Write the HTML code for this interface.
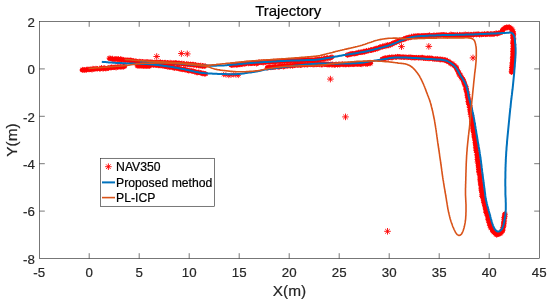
<!DOCTYPE html>
<html><head><meta charset="utf-8"><title>Trajectory</title>
<style>html,body{margin:0;padding:0;background:#fff;overflow:hidden}body{width:550px;height:303px;position:relative}</style></head>
<body>
<svg width="550" height="303" viewBox="0 0 550 303" style="position:absolute;left:0;top:0">
<defs><marker id="st" markerWidth="8" markerHeight="8" refX="4" refY="4" markerUnits="userSpaceOnUse" overflow="visible"><path d="M0.7,4H7.3M4,0.7V7.3M1.7,1.7L6.3,6.3M1.7,6.3L6.3,1.7" stroke="#ff0000" stroke-width="0.9" fill="none"/></marker><marker id="sb" markerWidth="8" markerHeight="8" refX="4" refY="4" markerUnits="userSpaceOnUse" overflow="visible"><path d="M1.4,4H6.6M4,1.4V6.6M2.2,2.2L5.8,5.8M2.2,5.8L5.8,2.2" stroke="#ff0000" stroke-width="0.8" fill="none"/></marker></defs>
<polyline points="81.7,70.2 83.2,70.1 84.7,69.9 86.1,69.8 87.6,69.7 89.0,69.6 90.4,69.4 91.9,69.3 93.4,69.2 95.0,69.0 96.6,68.9 98.2,68.8 100.0,68.6 101.4,68.5 102.8,68.4 104.3,68.2 105.8,68.1 107.3,68.0 108.9,67.8 110.5,67.7 112.1,67.5 113.7,67.4 115.3,67.3 117.0,67.1 118.6,67.0 120.2,66.8 121.8,66.7 123.4,66.5 125.0,66.4" fill="none" stroke="#ff0000" stroke-width="3.8" stroke-linecap="round" stroke-linejoin="round"/>
<polyline points="82.3,70.3 82.4,69.5 83.0,70.0 83.7,69.8 84.4,69.8 84.7,70.2 86.1,70.4 86.5,69.7 86.9,69.2 88.1,69.3 88.0,69.5 89.6,69.6 89.4,69.3 90.6,69.4 90.9,69.3 92.0,70.0 92.1,69.1 92.9,68.4 93.6,68.8 95.0,69.0 94.8,69.2 95.9,68.4 96.6,68.7 97.3,68.8 97.6,68.7 99.5,69.0 100.4,69.0 101.1,68.2 101.5,67.9 101.7,67.8 102.9,68.8 103.2,68.9 103.7,68.3 104.6,67.8 105.4,68.8 105.6,68.4 106.6,68.6 107.5,68.2 108.3,68.0 108.3,68.3 109.1,67.8 110.4,67.4 111.0,68.0 111.7,67.3 111.5,67.2 113.0,67.3 113.6,67.5 114.5,67.3 115.6,67.0 116.1,67.9 117.2,66.7 117.6,67.2 118.8,67.0 119.0,66.7 120.1,67.0 120.5,66.7 121.2,67.0 121.9,66.8 123.1,66.8 123.3,67.0 124.1,66.6 124.8,65.8" fill="none" stroke="none" marker-start="url(#sb)" marker-mid="url(#sb)" marker-end="url(#sb)"/>
<polyline points="137.0,65.8 138.6,65.8 140.2,65.9 141.9,66.0 143.5,66.0 145.1,66.0 146.8,66.1 148.4,66.2 150.0,66.2" fill="none" stroke="#ff0000" stroke-width="3.3" stroke-linecap="round" stroke-linejoin="round"/>
<polyline points="137.0,65.8 137.7,65.9 138.3,65.7 139.1,66.2 140.0,65.8 140.7,65.8 141.3,66.1 142.0,65.7 142.6,66.0 143.5,66.2 144.1,66.1 145.0,66.0 145.8,66.1 146.2,66.3 146.9,66.1 147.8,66.2 148.4,66.1 149.3,66.3 149.9,66.2" fill="none" stroke="none" marker-start="url(#sb)" marker-mid="url(#sb)" marker-end="url(#sb)"/>
<polyline points="152.0,64.8 153.6,65.0 155.2,65.1 156.8,65.3 158.4,65.4 160.0,65.6 161.6,65.8 163.3,66.0 165.0,66.2 166.4,66.4 168.0,66.6 169.5,66.9 171.1,67.1 172.7,67.4 174.3,67.7 175.8,68.0 177.3,68.2 178.7,68.5 180.0,68.7 182.0,69.1 183.7,69.4 185.3,69.7 186.9,70.0 188.4,70.4 190.0,70.7 191.7,71.1 193.5,71.5 195.2,71.9 197.0,72.3 198.6,72.6 200.0,72.9 201.8,73.2 203.2,73.4 204.6,73.6 206.0,73.8" fill="none" stroke="#ff0000" stroke-width="3.5" stroke-linecap="round" stroke-linejoin="round"/>
<polyline points="151.9,64.5 153.3,64.9 153.1,65.3 153.9,65.1 155.0,64.9 155.5,65.0 156.2,64.9 156.7,65.3 157.9,65.5 158.8,65.6 159.0,65.5 159.3,65.4 160.3,65.7 161.4,65.6 161.8,65.5 162.7,66.0 163.6,65.8 164.7,66.4 165.0,66.1 165.6,66.3 166.4,66.5 167.3,66.8 168.1,66.6 168.6,66.6 169.2,67.3 169.9,67.4 170.7,67.2 171.8,67.2 172.4,67.3 173.0,67.4 173.7,68.0 174.5,68.1 174.7,67.9 176.2,67.9 177.0,68.3 177.4,68.3 178.8,68.4 178.8,68.4 179.4,68.3 180.0,69.3 181.1,69.0 181.9,69.4 182.6,69.6 183.5,69.3 184.3,68.9 184.5,69.6 185.1,69.7 185.8,69.7 187.3,70.1 187.3,70.4 187.9,70.5 188.7,70.8 189.0,70.7 190.0,70.4 191.0,70.7 191.8,71.1 192.4,71.2 193.2,70.9 193.8,71.4 194.6,71.7 195.4,71.7 196.4,72.6 196.7,72.2 197.5,72.7 198.6,72.2 198.6,72.4 199.2,72.4 200.1,72.6 201.3,73.3 201.5,73.0 202.4,73.7 203.1,73.1 203.9,73.6 204.4,74.0 205.3,73.8 205.8,73.8" fill="none" stroke="none" marker-start="url(#sb)" marker-mid="url(#sb)" marker-end="url(#sb)"/>
<polyline points="109.2,58.8 110.8,58.9 112.4,59.0 114.0,59.1 115.6,59.3 117.1,59.4 118.7,59.5 120.3,59.6 121.9,59.7 123.5,59.9 125.0,60.0 126.5,60.2 128.0,60.3 129.4,60.5 130.8,60.7 132.2,60.9 133.7,61.1 135.2,61.2 136.7,61.4 138.3,61.6 140.0,61.7 141.4,61.8 142.8,61.9 144.3,61.9 145.8,62.0 147.3,62.1 148.9,62.1 150.5,62.2 152.1,62.2 153.7,62.3 155.3,62.3 156.9,62.4 158.4,62.4 160.0,62.5 161.6,62.6 163.1,62.6 164.7,62.7 166.3,62.8 167.9,62.8 169.5,62.9 171.1,63.0 172.7,63.1 174.2,63.1 175.7,63.2 177.2,63.3 178.6,63.4 180.0,63.5 181.7,63.6 183.4,63.8 185.0,63.9 186.6,64.1 188.1,64.2 189.6,64.4 191.0,64.5 192.4,64.7 193.7,64.9 195.0,65.0 197.0,65.2 198.7,65.4 200.3,65.7 201.9,65.9 203.4,66.1 205.0,66.3" fill="none" stroke="#ff0000" stroke-width="3.8" stroke-linecap="round" stroke-linejoin="round"/>
<polyline points="109.1,58.1 110.0,58.3 110.6,58.4 112.0,59.1 112.4,59.3 112.4,58.3 113.4,59.4 114.3,59.4 115.3,58.7 115.8,59.9 116.2,58.6 117.1,59.2 118.0,59.1 118.6,58.7 119.6,60.1 120.5,59.1 120.9,58.7 121.6,59.7 121.8,59.9 122.9,60.1 123.6,59.9 123.7,59.6 124.8,60.1 125.7,60.6 126.2,60.1 127.2,60.1 128.0,60.1 129.0,60.3 129.6,60.5 130.4,60.1 130.7,60.5 131.3,61.1 131.5,60.4 132.2,61.0 132.6,61.0 133.5,60.7 134.5,61.3 135.2,61.1 136.1,61.3 136.0,61.3 137.6,61.9 139.1,61.8 139.2,61.3 140.0,62.0 141.0,61.5 141.4,62.1 142.5,61.9 142.4,61.6 143.2,61.7 144.2,62.3 144.9,62.4 145.2,62.1 145.9,62.0 147.2,62.0 146.9,62.0 148.0,61.6 148.7,62.4 150.2,62.0 150.8,62.6 150.8,62.2 151.9,62.3 152.1,62.1 153.7,62.7 154.7,62.2 155.5,62.5 155.2,62.6 156.2,62.5 157.1,62.8 157.9,62.3 158.9,62.5 159.1,62.9 159.9,62.3 160.5,62.0 161.3,63.2 161.9,62.6 162.5,62.4 164.1,63.0 164.2,62.7 164.8,62.5 165.6,62.5 166.7,63.0 167.5,62.8 167.6,62.8 168.5,63.2 169.8,63.2 170.2,62.4 171.4,63.4 171.3,63.1 172.9,62.7 173.8,63.0 173.6,63.6 174.7,63.0 175.6,62.6 176.6,63.0 176.8,63.2 177.5,63.6 177.8,63.6 178.6,63.2 179.3,63.1 179.7,63.8 180.8,63.9 181.8,63.3 181.8,63.5 183.3,63.8 183.8,64.2 184.2,63.5 185.6,64.7 186.4,63.7 187.2,64.3 188.1,64.1 188.2,64.3 189.3,64.9 190.6,64.2 190.4,64.5 191.1,64.7 192.0,64.7 193.0,64.7 192.8,64.3 193.4,64.5 193.8,65.2 195.1,64.9 195.6,64.6 196.4,65.8 196.7,65.3 198.5,65.4 198.8,65.7 199.3,65.8 200.8,65.3 200.7,65.8 202.0,66.3 202.5,65.7 202.6,66.1 203.7,65.8 204.3,66.3 205.3,66.0" fill="none" stroke="none" marker-start="url(#sb)" marker-mid="url(#sb)" marker-end="url(#sb)"/>
<polyline points="223.6,74.6 225.9,74.9 228.8,75.6 231.1,75.1 233.6,74.8 235.8,74.9 238.3,75.5" fill="none" stroke="none" marker-start="url(#sb)" marker-mid="url(#sb)" marker-end="url(#sb)"/>
<polyline points="230.5,65.2 232.0,65.0 233.5,64.9 234.9,64.8 236.3,64.6 237.7,64.5 239.1,64.3 240.5,64.2 242.0,64.0 243.5,63.9 245.0,63.7 246.6,63.6 248.3,63.4 250.1,63.3 252.0,63.1 253.3,63.0 254.6,62.9 256.0,62.8 257.4,62.7 258.9,62.6 260.4,62.5 261.9,62.4 263.5,62.3 265.1,62.2 266.7,62.1 268.3,62.0 269.9,61.9 271.5,61.8 273.1,61.7 274.7,61.6 276.3,61.5 277.8,61.4 279.3,61.3 280.8,61.2 282.3,61.1 283.7,61.1 285.0,61.0 286.8,60.9 288.6,60.8 290.4,60.7 292.2,60.7 293.9,60.6 295.6,60.5 297.3,60.5 298.9,60.4 300.5,60.4 302.1,60.3 303.6,60.3 305.0,60.2 306.4,60.2 307.6,60.1 308.9,60.1 310.0,60.0 312.5,59.9 314.4,59.8 315.8,59.7 317.1,59.6 318.4,59.5 320.0,59.3 321.4,59.1 322.9,58.9 324.4,58.6 325.9,58.4 327.4,58.1 329.0,57.8 330.5,57.6 332.0,57.3" fill="none" stroke="#ff0000" stroke-width="3.8" stroke-linecap="round" stroke-linejoin="round"/>
<polyline points="230.7,64.9 231.8,65.2 231.9,65.3 232.0,65.1 233.6,65.0 234.0,64.5 234.8,64.8 235.3,64.5 236.2,65.1 236.7,64.9 237.7,65.0 238.0,64.4 238.4,64.4 239.4,64.6 239.7,64.3 240.2,64.6 241.1,64.2 241.6,63.9 242.3,64.5 243.4,63.8 243.7,63.6 244.9,64.3 245.0,63.4 246.1,63.4 246.4,63.5 248.0,62.9 248.6,63.7 249.7,63.2 251.0,63.4 250.8,63.5 251.6,63.4 252.2,63.3 253.0,63.4 254.0,63.1 254.4,63.3 254.5,63.0 255.8,63.0 256.6,64.0 257.1,63.0 257.8,63.2 257.7,63.2 258.9,61.8 259.4,62.5 260.6,62.5 261.5,62.4 261.9,61.7 262.8,62.7 263.3,61.7 263.7,62.8 264.7,62.0 265.4,62.4 266.2,61.8 266.7,62.0 268.2,62.0 268.9,62.0 269.5,62.0 270.2,62.2 271.1,61.6 271.7,61.7 272.6,61.8 273.3,61.2 274.0,62.1 274.2,62.1 275.5,61.5 275.5,61.9 276.5,61.3 277.8,61.1 278.0,61.0 279.0,61.5 279.8,61.4 280.3,61.3 280.9,61.9 281.8,60.5 282.1,61.7 282.6,61.0 283.9,60.7 284.7,61.6 284.7,61.4 285.5,60.6 286.7,61.0 287.3,61.2 287.8,60.6 288.8,61.0 290.2,61.0 290.3,60.8 291.7,60.2 292.1,60.9 293.4,60.7 294.1,60.7 294.8,60.5 295.2,60.5 296.2,61.3 297.1,60.5 297.7,60.4 298.5,60.6 299.3,60.7 299.8,60.5 301.0,60.0 301.5,60.4 302.1,60.1 302.2,60.7 303.2,59.8 304.4,59.6 305.2,60.4 305.7,60.1 305.7,59.5 307.2,60.0 307.1,60.6 307.7,60.0 308.3,60.0 308.6,59.9 309.9,60.3 309.0,59.4 311.3,59.9 312.1,60.2 312.5,60.2 313.9,60.0 314.7,60.1 315.1,59.6 316.1,59.8 315.9,60.1 317.3,60.1 317.5,59.7 317.9,59.2 318.6,59.5 319.0,60.0 319.5,59.0 320.4,59.6 321.2,59.0 321.7,58.8 322.3,59.3 323.6,59.1 323.9,59.5 324.5,57.9 325.4,58.5 326.5,58.0 327.2,58.8 327.4,57.8 327.8,58.0 329.4,58.1 330.1,58.1 330.6,57.9 331.0,57.2 332.1,57.0" fill="none" stroke="none" marker-start="url(#sb)" marker-mid="url(#sb)" marker-end="url(#sb)"/>
<polyline points="267.0,67.5 268.5,67.4 270.0,67.2 271.6,67.1 273.1,67.0 274.7,66.8 276.2,66.7 277.7,66.6 279.2,66.5 280.7,66.3 282.2,66.2 283.6,66.1 285.0,66.0 286.6,65.9 288.1,65.8 289.6,65.7 291.0,65.6 292.4,65.5 293.8,65.4 295.2,65.3 296.7,65.2 298.3,65.1 300.0,65.0 301.4,64.9 302.9,64.9 304.4,64.8 305.9,64.7 307.6,64.6 309.2,64.6 310.8,64.5 312.4,64.4 314.1,64.4 315.6,64.3 317.1,64.3 318.6,64.2 320.0,64.2 321.7,64.2 323.1,64.2 324.5,64.2 325.8,64.3 327.1,64.3 328.4,64.4 329.8,64.4 331.4,64.5 333.1,64.5 335.0,64.5 336.3,64.5 337.7,64.5 339.1,64.5 340.7,64.4 342.3,64.4 344.0,64.4 345.7,64.4 347.4,64.3 349.2,64.3 350.9,64.3 352.6,64.2 354.2,64.2 355.8,64.2 357.2,64.1 358.6,64.1 359.9,64.0 361.0,64.0 363.6,63.9 365.5,63.7 367.0,63.5 368.3,63.4 369.5,63.2 371.0,63.0" fill="none" stroke="#ff0000" stroke-width="3.8" stroke-linecap="round" stroke-linejoin="round"/>
<polyline points="267.2,68.0 267.9,67.2 268.2,67.8 268.9,67.3 269.8,67.3 271.0,67.0 270.9,67.6 272.2,67.3 272.9,67.3 274.0,67.4 274.3,66.8 275.2,66.9 276.0,66.5 275.8,66.8 277.5,66.8 278.6,66.8 278.6,66.8 279.4,66.9 280.3,66.5 281.0,66.3 281.1,66.3 281.5,66.4 283.3,66.8 283.8,65.9 283.8,66.7 284.5,66.3 285.0,65.9 286.8,66.0 287.2,65.6 287.7,66.1 288.8,65.7 289.4,65.4 290.4,66.0 290.5,65.6 291.7,65.3 292.7,66.0 292.6,65.8 293.9,65.0 294.3,65.3 294.7,65.5 295.3,64.8 295.7,65.2 297.1,65.2 297.6,65.1 298.8,65.3 298.9,64.9 300.4,64.8 300.5,65.0 300.9,65.2 301.2,65.4 302.5,64.5 303.4,64.3 304.2,65.1 304.6,64.6 305.8,64.5 306.2,64.8 307.5,64.5 307.7,65.0 307.6,64.5 308.6,63.9 310.6,64.6 311.2,64.4 311.7,64.3 312.1,64.4 313.1,64.9 313.7,64.5 314.4,64.4 314.8,64.7 315.8,64.3 316.6,64.6 317.5,64.3 318.1,64.4 319.0,64.4 319.8,64.7 320.2,63.8 321.4,64.9 321.5,64.1 321.6,64.4 322.7,64.8 322.9,64.2 324.6,64.1 324.7,64.3 325.4,64.2 326.2,64.1 326.7,64.6 327.3,64.4 327.8,64.7 328.3,64.7 328.4,64.1 329.5,64.8 330.9,64.0 331.3,64.9 332.3,64.7 332.7,64.0 334.2,65.3 334.8,64.7 335.2,64.9 336.0,64.3 336.1,64.3 337.5,64.9 337.7,64.8 338.6,64.4 339.1,63.9 339.8,65.0 340.5,64.3 342.0,63.7 342.5,64.2 343.2,64.7 343.9,64.3 345.0,64.6 345.3,64.3 345.9,64.8 346.7,64.4 348.5,64.6 348.6,64.1 349.3,64.6 350.4,64.3 351.9,64.0 351.7,64.1 352.7,64.3 353.3,64.5 354.3,64.1 354.0,64.4 355.2,63.9 356.2,63.7 356.6,64.1 357.4,64.2 357.9,64.0 358.4,64.0 359.5,63.9 359.5,63.9 360.5,64.4 361.0,63.8 361.8,64.6 362.9,63.5 364.1,63.2 365.4,63.8 365.9,63.3 366.2,63.9 367.3,64.4 367.9,62.8 368.1,63.2 368.9,63.2 369.3,63.1 369.9,63.6 370.1,62.4 370.6,63.5" fill="none" stroke="none" marker-start="url(#sb)" marker-mid="url(#sb)" marker-end="url(#sb)"/>
<polyline points="347.0,55.0 348.6,54.7 350.2,54.4 351.9,54.1 353.5,53.8 355.1,53.5 356.7,53.1 358.2,52.9 359.7,52.6 361.0,52.3 362.7,52.0 364.0,51.7 365.2,51.5 366.4,51.2 368.0,50.8 370.0,50.3 371.2,50.0 372.4,49.7 373.8,49.3 375.3,48.9 376.9,48.5 378.5,48.1 380.1,47.6 381.7,47.2 383.3,46.7 384.8,46.3 386.3,45.8 387.7,45.4 389.0,45.0 390.7,44.4 392.3,43.8 393.7,43.2 395.1,42.6 396.5,42.0 397.8,41.4 399.1,40.8 400.4,40.3 401.8,39.8 403.3,39.3 404.7,38.8 406.0,38.3 407.4,37.9 408.8,37.5 410.4,37.1 412.3,36.8 414.5,36.5 415.7,36.4 416.9,36.2 418.2,36.1 419.5,36.0 420.9,35.9 422.4,35.8 423.9,35.7 425.4,35.7 427.0,35.6 428.5,35.5 430.2,35.4 431.8,35.4 433.4,35.3 435.1,35.3 436.7,35.2 438.4,35.2 440.0,35.1 441.4,35.1 442.8,35.0 444.3,35.0 445.7,35.0 447.2,35.0 448.7,34.9 450.2,34.9 451.8,34.9 453.3,34.9 454.8,34.9 456.4,34.9 457.9,34.9 459.5,34.9 461.0,34.9 462.5,34.8 464.1,34.8 465.6,34.8 467.1,34.8 468.5,34.7 470.0,34.7 471.6,34.7 473.3,34.6 475.0,34.6 476.8,34.5 478.6,34.5 480.3,34.4 482.1,34.3 483.8,34.3 485.6,34.2 487.2,34.1 488.9,34.1 490.4,34.0 491.9,33.9 493.4,33.8 494.7,33.7 495.9,33.6 497.0,33.4 498.0,33.3 500.9,32.5 502.0,31.5 502.3,30.4 503.0,29.5 504.6,28.4 506.1,27.5 507.5,27.0 509.4,27.3 511.0,28.5 511.8,29.6 512.5,31.0 513.0,33.0 513.2,34.3 513.2,35.8 513.3,37.5 513.3,39.2 513.3,41.1 513.3,43.0 513.3,44.5 513.3,46.1 513.3,47.8 513.2,49.6 513.2,51.3 513.1,53.0 513.1,54.5 513.0,56.0 512.9,57.7 512.8,59.3 512.6,60.8 512.5,62.3 512.3,63.6 512.2,65.0 512.0,66.6 511.9,68.1 511.7,69.6 511.6,71.1 511.4,72.6" fill="none" stroke="#ff0000" stroke-width="3.8" stroke-linecap="round" stroke-linejoin="round"/>
<polyline points="347.1,54.9 347.4,55.2 348.5,54.7 349.0,54.5 349.8,54.6 351.0,53.6 350.9,54.1 352.1,53.5 352.6,53.7 353.4,53.6 354.3,53.9 355.3,53.6 355.8,53.1 356.3,53.4 357.2,53.3 357.9,52.9 358.6,52.3 359.1,52.5 360.1,52.3 360.5,52.3 361.1,52.5 361.7,52.1 362.6,52.2 363.1,51.8 363.6,51.4 364.4,51.7 364.6,52.0 365.2,51.6 366.1,50.7 366.6,50.6 367.3,51.2 368.7,51.0 368.5,50.4 370.5,50.3 371.1,49.9 370.9,49.6 371.5,50.3 371.9,50.0 373.0,49.8 373.4,49.4 374.9,48.8 375.1,49.5 375.7,49.4 375.3,48.5 376.6,48.3 377.7,48.4 378.2,48.3 378.7,48.1 379.9,47.0 380.1,46.8 381.2,47.2 382.7,47.2 382.5,46.0 383.6,46.1 384.4,46.1 386.0,45.6 385.9,46.6 386.3,45.5 387.7,44.8 387.2,44.9 388.5,45.4 388.9,45.7 389.7,44.7 390.5,44.8 391.3,44.0 392.6,44.3 393.1,43.1 393.1,43.2 394.1,42.8 394.7,42.9 395.1,42.5 396.0,41.9 396.6,42.1 397.4,41.3 398.1,41.3 398.7,40.9 399.5,40.9 399.5,40.1 400.0,40.4 400.9,39.9 401.8,40.2 403.2,39.5 403.8,39.5 404.2,39.0 404.0,39.1 405.4,38.2 405.5,38.6 406.4,37.9 406.6,38.4 408.0,37.9 408.3,37.8 408.8,37.4 409.2,37.2 410.1,37.6 410.9,37.3 411.4,37.2 411.5,36.3 413.4,36.0 414.7,36.6 414.7,36.5 415.1,36.1 416.0,35.8 417.1,36.0 417.7,36.1 418.1,35.8 418.5,36.0 419.3,36.5 419.7,35.9 420.6,36.2 421.2,35.8 421.7,35.9 422.7,35.6 423.2,36.0 424.0,35.5 424.9,35.9 425.6,35.9 426.0,35.7 427.0,35.6 427.1,35.5 428.5,35.7 429.1,35.5 429.3,35.0 429.7,35.3 432.0,36.0 431.9,35.6 433.4,35.2 433.1,35.8 434.4,35.2 435.9,35.4 436.4,35.8 436.9,34.9 437.9,35.2 438.7,35.3 439.0,35.1 439.9,35.0 440.7,35.2 441.4,34.7 442.2,34.6 443.4,34.8 443.4,35.5 444.0,34.6 444.3,35.1 445.6,35.3 446.3,34.8 447.0,35.4 447.3,36.1 448.2,35.4 449.7,35.3 449.9,35.2 450.9,34.1 451.4,34.8 451.7,35.0 452.7,35.1 453.2,35.3 453.4,34.6 454.4,34.9 455.4,35.1 456.1,35.3 457.3,34.7 457.2,34.5 458.0,35.3 459.5,34.5 460.6,34.8 460.0,35.2 461.9,34.9 461.9,35.3 462.7,34.8 463.8,34.9 464.2,34.5 465.3,34.1 465.9,34.9 466.7,34.7 467.3,35.0 467.6,34.8 468.7,34.3 469.0,35.2 470.3,34.5 471.0,34.8 471.9,35.0 471.4,34.5 473.4,35.2 473.6,34.2 474.6,34.4 475.3,34.2 476.4,34.7 477.0,34.1 477.1,34.1 478.6,33.9 479.5,35.0 479.9,34.3 481.2,34.7 481.5,34.3 482.5,34.2 483.4,34.4 484.5,33.7 485.2,34.5 485.5,34.4 486.6,34.3 487.0,34.2 487.6,33.7 488.3,33.8 489.3,34.3 490.1,34.5 490.6,33.8 491.1,33.6 491.9,34.3 492.2,34.0 493.3,34.1 493.8,34.0 494.3,33.9 494.4,33.8 495.9,33.1 496.4,33.2 497.0,33.5 497.4,33.6 497.2,33.9 498.4,33.0 499.9,33.1 500.7,32.2 502.0,31.9 502.3,32.1 502.4,30.7 502.7,30.0 502.3,30.9 502.8,29.6 503.4,29.0 504.4,27.7 504.8,28.4 506.0,27.9 506.0,27.5 506.8,26.9 507.5,27.8 508.0,27.4 509.2,26.7 509.5,27.5 510.3,28.1 510.7,28.2 511.7,28.9 511.5,29.4 512.7,29.8 511.9,30.9 513.3,31.7 512.4,31.4 513.4,33.0 513.3,33.5 513.7,34.2 513.1,34.8 512.8,35.4 513.2,35.4 512.9,36.3 512.8,37.6 513.7,38.3 512.8,38.4 513.6,39.7 513.3,40.1 512.6,42.1 513.1,42.1 512.9,43.5 513.2,43.6 513.3,44.3 513.8,44.4 513.5,45.6 513.1,46.3 513.4,46.8 513.1,48.2 513.0,48.6 513.3,49.6 513.1,50.3 512.9,51.4 512.8,51.3 513.3,52.1 512.8,53.2 513.3,53.9 512.9,54.6 513.1,55.2 513.1,56.4 512.9,56.8 512.6,57.5 512.4,58.2 512.6,59.4 512.8,59.9 512.7,60.4 513.2,62.3 512.4,62.4 512.4,63.2 512.1,63.1 512.5,63.9 512.3,64.7 511.8,66.1 512.5,66.5 511.8,67.5 511.7,67.5 511.8,68.1 511.8,69.4 511.7,69.9 511.3,71.3 511.9,72.1 511.5,72.2" fill="none" stroke="none" marker-start="url(#sb)" marker-mid="url(#sb)" marker-end="url(#sb)"/>
<polyline points="382.0,59.0 383.5,58.8 384.9,58.5 386.3,58.2 387.7,58.0 389.1,57.7 390.6,57.5 392.1,57.3 393.8,57.1 395.5,57.0 396.9,57.0 398.4,56.9 399.9,56.9 401.6,57.0 403.2,57.0 404.9,57.1 406.6,57.1 408.2,57.2 409.9,57.3 411.5,57.4 413.0,57.4 414.5,57.5 416.2,57.6 417.9,57.7 419.5,57.8 421.1,57.8 422.6,57.9 424.2,58.1 425.7,58.2 427.1,58.3 428.6,58.4 430.0,58.5 431.8,58.6 433.5,58.8 435.2,58.9 436.9,59.1 438.5,59.2 440.0,59.4 441.4,59.6 442.7,59.8 444.7,60.2 446.2,60.6 447.6,61.1 449.0,61.9 450.3,62.7 451.6,63.6 452.9,64.6 454.1,65.7 455.3,67.0 456.2,68.2 457.1,69.6 457.9,71.0 458.7,72.5 459.5,73.9 460.2,75.2 461.2,76.9 462.2,78.5 463.1,80.0 463.9,81.6 464.5,83.1 465.1,84.6 465.5,86.1 466.0,88.0 466.3,89.4 466.6,91.0 466.9,92.6 467.2,94.3 467.5,96.1 467.8,98.0 468.1,99.5 468.4,101.0 468.7,102.6 469.1,104.2 469.4,105.8 469.7,107.4 470.0,109.0 470.3,110.5 470.6,112.1 470.8,113.6 471.0,115.0 471.2,116.4 471.5,117.9 471.7,119.6 472.0,121.5 472.2,122.8 472.4,124.3 472.7,125.8 472.9,127.4 473.2,129.0 473.5,130.7 473.8,132.4 474.0,134.1 474.3,135.7 474.6,137.4 474.8,139.0 475.0,140.6 475.3,142.2 475.5,143.8 475.7,145.4 476.0,147.0 476.2,148.5 476.4,150.1 476.6,151.7 476.9,153.3 477.1,154.9 477.3,156.5 477.5,158.1 477.7,159.7 477.9,161.2 478.1,162.8 478.3,164.4 478.5,165.9 478.7,167.5 478.9,169.1 479.1,170.7 479.3,172.4 479.5,174.0 479.7,175.6 479.9,177.2 480.1,178.9 480.3,180.7 480.6,182.4 480.8,184.2 481.0,185.9 481.2,187.5 481.4,189.1 481.6,190.5 481.8,191.8 482.0,193.0 482.4,195.5 482.7,196.9 483.0,198.1 483.5,200.0 483.8,201.3 484.1,202.8 484.5,204.3 484.8,206.0 485.2,207.6 485.6,209.3 486.1,211.0 486.5,212.7 486.9,214.2 487.3,215.7 487.8,217.3 488.2,218.9 488.7,220.5 489.2,222.0 489.6,223.5 490.1,224.8 490.5,226.0 491.4,228.2 492.2,230.0 493.1,231.4 494.0,232.5 496.0,234.1 498.0,234.5 499.9,233.8 501.5,232.0 502.1,230.9 502.7,229.6 503.1,228.0 503.5,226.0 503.7,224.8 503.8,223.4 503.9,221.9 504.1,220.4 504.2,218.8 504.3,217.1 504.4,215.5 504.5,214.0" fill="none" stroke="#ff0000" stroke-width="3.8" stroke-linecap="round" stroke-linejoin="round"/>
<polyline points="382.2,59.0 382.6,59.3 383.1,59.3 383.8,58.4 384.7,58.1 385.2,58.4 385.5,58.0 386.3,58.0 387.8,57.9 388.0,58.0 388.4,57.8 389.2,57.4 389.5,57.3 391.1,57.8 391.4,57.3 392.1,56.9 392.4,57.7 393.5,57.2 395.1,56.9 395.4,57.1 396.0,57.0 396.6,57.3 397.5,56.5 397.6,56.7 398.5,56.7 399.7,56.7 400.0,57.0 400.2,57.1 401.7,57.4 402.0,56.8 403.1,56.9 403.3,57.3 404.4,57.2 404.9,57.4 405.9,56.9 407.0,57.5 407.2,57.5 408.8,57.3 408.5,57.4 410.0,56.9 411.0,57.2 411.1,57.7 411.9,57.8 412.5,57.5 413.2,57.5 414.0,57.6 414.4,57.8 415.3,57.9 416.3,57.5 416.6,57.6 418.0,57.7 418.6,57.7 419.0,57.5 419.1,57.9 420.5,57.8 421.5,57.5 422.5,57.4 422.7,57.6 423.3,58.4 423.5,58.1 424.8,58.2 425.5,58.4 426.2,58.3 427.0,58.5 427.4,57.9 428.3,58.2 429.2,58.2 429.0,58.8 429.8,58.0 431.2,58.1 432.0,58.3 432.5,58.8 432.5,58.7 433.8,58.9 434.8,59.4 435.4,58.9 436.9,59.2 437.2,58.6 437.2,59.0 438.3,59.4 439.9,58.9 439.6,59.6 440.4,59.8 440.9,59.2 442.3,59.8 441.8,59.6 442.7,59.3 443.9,60.0 444.4,59.9 445.8,60.3 445.7,59.8 446.2,60.9 447.6,60.6 447.0,61.2 448.3,61.8 448.8,61.9 449.0,61.8 450.0,62.4 450.9,63.4 450.9,63.9 451.7,63.7 452.9,63.5 452.6,64.5 453.7,65.6 454.6,65.5 455.0,66.3 455.8,66.9 456.1,67.2 456.4,67.6 456.6,68.2 456.9,69.1 457.0,70.1 458.0,70.7 458.2,71.6 458.9,72.4 459.0,73.4 459.0,73.6 459.1,74.8 459.8,74.7 460.6,75.1 460.3,75.3 460.9,77.3 461.5,77.8 462.1,77.7 461.7,78.4 462.8,79.0 463.0,79.9 463.2,79.9 463.5,81.1 463.6,81.2 463.9,82.2 464.4,82.9 464.3,83.6 464.7,83.9 464.5,84.5 465.2,85.6 465.7,86.3 465.8,86.7 466.2,88.2 466.3,88.4 466.2,89.0 465.9,89.7 466.0,89.9 466.8,91.4 467.0,91.7 466.9,92.8 466.9,92.7 467.8,94.5 467.6,94.9 467.1,95.6 467.6,95.9 467.5,97.4 468.3,98.2 467.8,98.2 468.7,99.3 468.4,100.0 467.9,101.4 468.7,101.7 468.3,102.0 469.2,102.6 468.7,103.1 468.6,104.5 469.2,104.3 469.9,106.1 469.9,105.7 469.7,107.5 469.4,107.5 469.8,107.8 470.1,109.5 470.4,110.3 470.3,110.5 470.4,111.0 470.2,111.7 470.6,112.5 470.8,113.4 471.1,113.9 470.3,114.4 471.7,115.6 471.0,116.0 471.2,116.5 471.4,117.6 471.9,118.0 471.5,118.8 471.7,120.1 471.6,121.3 472.2,121.9 471.8,122.0 472.0,122.7 471.6,123.5 471.8,124.1 472.8,124.6 472.5,125.2 472.6,126.0 473.1,126.8 473.4,127.4 472.9,127.9 472.8,128.6 473.1,130.1 473.6,130.8 472.9,131.1 474.0,131.8 473.6,132.5 473.9,133.2 474.1,134.3 474.2,134.8 474.3,135.6 474.2,136.4 474.4,137.2 474.4,137.6 474.7,138.0 475.2,139.2 475.0,140.1 474.9,140.4 475.5,141.9 475.3,142.4 475.4,142.3 475.6,143.6 475.6,144.1 475.3,143.9 475.9,144.9 475.8,145.8 476.0,147.0 475.5,147.4 476.1,148.5 476.3,148.5 476.1,150.1 476.1,150.2 476.6,150.5 476.4,150.9 476.4,152.5 476.9,152.4 477.4,153.3 476.7,154.9 477.3,155.1 477.7,155.8 477.4,156.3 477.4,157.2 477.8,157.7 477.5,157.9 477.1,159.5 477.6,159.9 478.0,160.6 478.0,161.3 477.3,162.2 478.6,163.1 478.2,163.5 478.4,164.6 478.7,164.7 478.4,165.4 478.3,166.0 478.6,166.1 478.8,167.4 478.4,168.2 478.6,169.4 478.6,169.7 479.1,170.1 478.7,171.2 479.1,171.5 478.8,172.7 479.9,173.1 479.6,174.3 479.9,174.5 479.8,175.6 480.6,176.2 480.2,177.1 480.2,177.3 480.1,178.8 480.0,179.2 480.0,180.0 480.5,180.9 480.3,181.3 480.4,182.3 480.7,183.7 480.5,184.0 480.7,184.4 481.3,185.4 481.2,185.6 482.0,187.5 481.0,187.1 481.1,188.3 481.1,189.0 481.3,190.4 481.5,190.1 482.3,190.9 481.8,191.4 482.0,191.8 482.0,192.3 481.6,192.9 482.2,194.7 482.4,195.0 482.5,196.0 481.9,196.3 482.0,196.3 482.6,197.3 483.0,197.9 483.5,198.6 483.4,199.0 484.1,200.4 483.4,200.4 484.0,201.5 483.8,202.1 483.7,202.4 484.5,202.9 484.4,203.8 484.4,203.9 484.6,205.3 484.9,206.2 485.3,206.6 485.1,208.0 485.7,208.2 485.5,209.3 486.1,209.7 486.1,210.5 486.1,211.8 485.9,212.2 486.2,212.5 487.0,213.0 486.6,213.8 486.9,215.0 487.7,215.4 487.8,216.0 488.4,217.0 487.8,217.9 488.2,218.6 487.8,219.6 488.8,220.0 488.4,220.9 489.4,221.0 488.9,222.3 489.2,222.9 489.6,223.9 490.1,224.6 490.4,224.7 489.5,225.6 490.6,226.1 490.6,227.6 490.7,228.1 491.8,228.9 492.4,229.5 492.4,229.9 492.8,230.7 493.2,230.7 492.8,231.6 493.8,231.6 493.7,232.4 494.7,233.2 495.6,233.6 496.1,234.5 496.6,235.1 497.2,234.5 497.4,234.5 498.5,234.2 499.4,233.8 499.9,233.1 500.3,233.7 501.1,232.9 501.2,231.6 502.2,231.8 502.3,231.0 502.7,230.3 502.8,230.1 502.5,229.7 503.0,228.8 502.7,227.4 503.2,227.1 503.9,226.1 503.5,225.6 503.6,224.9 503.9,224.0 503.9,223.1 503.6,223.1 503.7,222.4 504.1,221.4 504.5,220.9 503.9,219.8 504.2,218.8 504.6,218.5 503.7,217.4 504.7,217.0 505.0,216.2 504.5,216.1 505.1,214.4 504.8,213.7" fill="none" stroke="none" marker-start="url(#sb)" marker-mid="url(#sb)" marker-end="url(#sb)"/>
<polyline points="156.7,56.5 181.4,53.5 187.3,53.9 330.4,79.1 345.5,116.9 387.5,231.3 401.5,46.6 428.8,46.4 473.0,57.9" fill="none" stroke="none" marker-start="url(#st)" marker-mid="url(#st)" marker-end="url(#st)"/>
<polyline points="101.8,61.8 102.8,61.9 103.8,62.0 104.8,62.0 105.8,62.1 106.8,62.2 107.8,62.3 108.8,62.4 109.8,62.4 110.8,62.5 111.8,62.6 112.9,62.7 113.9,62.7 115.0,62.8 115.9,62.9 116.9,62.9 117.8,63.0 118.7,63.0 119.7,63.1 120.6,63.1 121.6,63.1 122.6,63.2 123.6,63.2 124.6,63.3 125.6,63.3 126.7,63.4 127.7,63.4 128.9,63.5 130.0,63.5 130.9,63.5 131.8,63.6 132.8,63.6 133.8,63.6 134.8,63.7 135.8,63.7 136.8,63.7 137.9,63.8 138.9,63.8 140.0,63.8 141.1,63.9 142.1,63.9 143.2,63.9 144.2,64.0 145.2,64.0 146.2,64.1 147.2,64.1 148.2,64.2 149.1,64.2 150.0,64.3 151.1,64.4 152.3,64.5 153.3,64.6 154.4,64.7 155.4,64.8 156.4,64.9 157.3,65.0 158.3,65.1 159.2,65.2 160.2,65.3 161.1,65.5 162.1,65.6 163.0,65.7 164.0,65.9 165.0,66.0 166.0,66.1 167.0,66.3 168.1,66.5 169.1,66.6 170.2,66.8 171.2,67.0 172.3,67.1 173.3,67.3 174.4,67.5 175.4,67.7 176.4,67.8 177.3,68.0 178.3,68.2 179.1,68.3 180.0,68.5 181.2,68.7 182.3,68.9 183.4,69.1 184.4,69.3 185.3,69.5 186.2,69.7 187.2,69.9 188.1,70.1 189.0,70.3 190.0,70.5 191.0,70.7 192.0,70.9 193.0,71.2 194.0,71.4 195.0,71.7 196.0,71.9 197.0,72.1 198.0,72.3 199.0,72.5 200.0,72.7 201.0,72.8 202.0,73.0 202.9,73.1 203.9,73.1 204.9,73.2 205.9,73.3 206.9,73.3 207.9,73.4 208.9,73.4 210.0,73.5 210.9,73.6 211.9,73.6 212.8,73.7 213.8,73.7 214.8,73.7 215.8,73.8 216.8,73.8 217.8,73.9 218.8,73.9 219.9,73.9 220.9,74.0 222.0,74.0 222.9,74.0 223.9,74.1 224.9,74.1 225.9,74.1 227.0,74.2 228.0,74.2 229.1,74.2 230.1,74.2 231.2,74.3 232.2,74.3 233.2,74.3 234.2,74.3 235.1,74.2 236.0,74.2 237.2,74.1 238.4,74.0 239.5,73.9 240.5,73.8 241.6,73.7 242.6,73.5 243.7,73.4 244.7,73.2 245.7,73.0 246.8,72.9 247.8,72.8 248.8,72.6 249.8,72.5 250.8,72.4 251.9,72.2 252.9,72.1 253.9,71.9 254.9,71.8 255.8,71.6 256.8,71.5 257.7,71.3 258.7,71.1 259.6,70.9 260.4,70.7 261.2,70.5 262.0,70.3 262.9,70.1 263.9,69.9 265.1,69.6 266.5,69.4 267.3,69.3 268.1,69.1 269.1,69.0 270.0,68.9 271.0,68.7 272.1,68.6 273.2,68.4 274.2,68.3 275.4,68.1 276.5,68.0 277.6,67.8 278.7,67.7 279.8,67.6 280.9,67.4 282.0,67.3 283.0,67.1 284.0,67.0 285.0,66.9 286.1,66.8 287.1,66.6 288.1,66.5 289.1,66.4 290.1,66.3 291.0,66.2 291.9,66.1 292.9,65.9 293.8,65.8 294.8,65.7 295.7,65.6 296.7,65.5 297.8,65.4 298.9,65.3 300.0,65.2 300.9,65.1 301.8,65.0 302.8,64.9 303.8,64.8 304.8,64.7 305.8,64.6 306.8,64.5 307.9,64.4 308.9,64.3 310.0,64.2 311.0,64.1 312.1,64.0 313.1,64.0 314.2,63.9 315.2,63.8 316.2,63.7 317.2,63.7 318.2,63.6 319.1,63.5 320.0,63.5 321.2,63.5 322.3,63.4 323.4,63.4 324.5,63.4 325.5,63.4 326.6,63.5 327.6,63.5 328.6,63.5 329.6,63.6 330.6,63.6 331.6,63.6 332.5,63.7 333.5,63.7 334.5,63.7 335.5,63.7 336.6,63.7 337.7,63.7 338.7,63.7 339.8,63.7 340.9,63.6 342.0,63.6 343.0,63.6 344.1,63.6 345.1,63.5 346.1,63.5 347.1,63.5 348.1,63.5 349.1,63.4 350.0,63.4 351.1,63.4 352.2,63.3 353.3,63.3 354.3,63.2 355.3,63.2 356.3,63.2 357.3,63.1 358.2,63.0 359.2,63.0 360.1,62.9 361.0,62.8 362.1,62.7 363.1,62.5 364.0,62.4 364.9,62.2 365.9,62.0 366.8,61.9 367.8,61.7 368.8,61.5 370.0,61.3 370.9,61.2 371.9,61.0 372.9,60.9 374.0,60.7 375.0,60.5 376.1,60.4 377.2,60.2 378.3,60.0 379.4,59.9 380.5,59.7 381.6,59.6 382.7,59.4 383.7,59.2 384.8,59.1 385.7,58.9 386.7,58.7 387.7,58.5 388.7,58.3 389.7,58.1 390.8,58.0 391.9,57.8 393.0,57.7 394.2,57.6 395.5,57.5 396.4,57.5 397.3,57.5 398.2,57.4 399.2,57.4 400.3,57.5 401.3,57.5 402.4,57.5 403.5,57.5 404.6,57.6 405.7,57.6 406.7,57.6 407.8,57.7 408.9,57.7 409.9,57.8 410.9,57.8 411.9,57.9 412.8,57.9 413.7,58.0 414.5,58.0 415.8,58.1 416.9,58.1 417.9,58.2 418.8,58.3 419.7,58.3 420.5,58.4 421.4,58.5 422.3,58.6 423.2,58.6 424.3,58.7 425.5,58.8 426.4,58.9 427.3,58.9 428.3,59.0 429.4,59.0 430.4,59.1 431.6,59.1 432.7,59.2 433.8,59.2 435.0,59.3 436.1,59.4 437.2,59.4 438.3,59.5 439.3,59.6 440.2,59.6 441.1,59.7 442.0,59.8 442.7,59.9 444.4,60.2 445.6,60.4 446.5,60.7 447.3,61.0 448.1,61.5 449.0,62.0 449.8,62.5 450.6,63.0 451.5,63.6 452.3,64.2 453.2,64.9 454.0,65.6 454.8,66.4 455.5,67.2 456.1,68.0 456.7,68.9 457.3,69.8 457.9,70.8 458.4,71.8 459.0,72.8 459.5,73.7 460.0,74.6 460.5,75.5 461.1,76.5 461.7,77.4 462.3,78.3 462.9,79.2 463.4,80.1 463.9,80.9 464.4,81.8 464.9,82.8 465.4,83.7 465.8,84.7 466.2,85.7 466.6,86.8 467.0,88.0 467.2,88.9 467.5,89.9 467.7,90.9 467.9,91.9 468.1,93.0 468.3,94.1 468.5,95.3 468.7,96.5 469.0,97.7 469.2,98.6 469.4,99.5 469.7,100.5 470.0,101.5 470.2,102.5 470.5,103.5 470.8,104.5 471.1,105.6 471.3,106.6 471.6,107.6 471.8,108.6 472.1,109.6 472.3,110.5 472.5,111.5 472.8,112.5 473.0,113.5 473.2,114.4 473.3,115.3 473.5,116.2 473.7,117.1 473.9,118.1 474.1,119.1 474.3,120.3 474.5,121.5 474.7,122.4 474.8,123.3 475.0,124.2 475.1,125.2 475.3,126.2 475.5,127.2 475.6,128.2 475.8,129.3 476.0,130.4 476.2,131.5 476.3,132.6 476.5,133.7 476.7,134.7 476.9,135.8 477.1,136.9 477.2,138.0 477.4,139.0 477.6,140.0 477.7,141.1 477.9,142.1 478.1,143.1 478.3,144.1 478.5,145.2 478.6,146.2 478.8,147.2 479.0,148.3 479.2,149.3 479.3,150.3 479.5,151.4 479.7,152.4 479.8,153.4 480.0,154.4 480.1,155.5 480.3,156.5 480.4,157.5 480.6,158.5 480.7,159.6 480.9,160.6 481.0,161.6 481.1,162.6 481.2,163.6 481.4,164.6 481.5,165.7 481.6,166.7 481.7,167.7 481.9,168.7 482.0,169.8 482.1,170.8 482.2,171.9 482.4,172.9 482.5,174.0 482.6,175.0 482.8,176.0 482.9,177.0 483.0,178.1 483.2,179.2 483.3,180.3 483.5,181.4 483.6,182.5 483.8,183.6 483.9,184.7 484.0,185.8 484.2,186.8 484.3,187.8 484.4,188.8 484.6,189.8 484.7,190.7 484.8,191.5 484.9,192.3 485.0,193.0 485.2,194.6 485.3,195.7 485.4,196.5 485.5,197.2 485.6,197.9 485.7,198.8 486.0,200.0 486.2,200.8 486.4,201.6 486.6,202.5 486.8,203.5 487.1,204.5 487.3,205.5 487.6,206.5 487.9,207.5 488.2,208.6 488.5,209.6 488.7,210.7 489.0,211.7 489.3,212.7 489.6,213.7 489.9,214.7 490.2,215.8 490.4,216.9 490.7,218.0 491.0,219.1 491.3,220.1 491.6,221.2 491.9,222.2 492.2,223.1 492.5,224.0 492.8,224.8 493.0,225.5 493.6,227.0 494.1,228.0 494.5,228.8 495.0,229.4 495.5,230.0 496.4,230.9 497.3,231.4 498.2,231.6 499.1,231.4 500.1,230.9 501.0,230.0 501.5,229.4 502.0,228.8 502.4,228.0 502.8,227.0 503.3,225.5 503.5,224.8 503.7,224.0 503.9,223.1 504.1,222.2 504.3,221.2 504.5,220.1 504.7,219.1 504.9,218.0 505.1,216.9 505.2,215.8 505.4,214.7 505.5,213.7 505.6,212.7 505.7,211.6 505.7,210.5 505.8,209.4 505.8,208.2 505.8,207.1 505.8,206.0 505.8,204.9 505.8,203.8 505.8,202.8 505.7,201.8 505.7,200.9 505.7,200.0 505.7,198.8 505.6,197.9 505.6,197.2 505.5,196.5 505.5,195.7 505.4,194.6 505.4,193.0 505.4,192.3 505.4,191.5 505.4,190.7 505.4,189.8 505.4,188.8 505.4,187.8 505.4,186.8 505.3,185.8 505.3,184.7 505.3,183.6 505.3,182.5 505.3,181.4 505.3,180.3 505.3,179.2 505.4,178.1 505.4,177.0 505.4,176.0 505.4,175.0 505.4,174.0 505.4,172.9 505.4,171.9 505.5,170.8 505.5,169.8 505.5,168.7 505.5,167.7 505.6,166.7 505.6,165.7 505.6,164.6 505.7,163.6 505.7,162.6 505.8,161.6 505.8,160.6 505.8,159.6 505.9,158.5 505.9,157.5 506.0,156.5 506.1,155.5 506.1,154.4 506.2,153.4 506.2,152.4 506.3,151.4 506.4,150.3 506.5,149.3 506.5,148.3 506.6,147.2 506.7,146.2 506.8,145.2 506.9,144.1 507.0,143.1 507.0,142.1 507.1,141.1 507.2,140.0 507.3,139.0 507.4,138.0 507.5,136.9 507.6,135.9 507.7,134.9 507.8,133.9 507.9,132.8 508.0,131.8 508.1,130.8 508.2,129.7 508.3,128.7 508.4,127.7 508.5,126.6 508.6,125.6 508.7,124.6 508.8,123.6 508.9,122.5 509.0,121.5 509.1,120.5 509.2,119.5 509.3,118.4 509.4,117.4 509.5,116.4 509.6,115.4 509.7,114.4 509.8,113.4 509.9,112.3 510.0,111.3 510.1,110.3 510.2,109.3 510.3,108.2 510.5,107.2 510.6,106.1 510.7,105.1 510.8,104.0 510.9,103.0 511.0,102.0 511.1,101.1 511.2,100.0 511.4,99.0 511.5,98.0 511.6,97.0 511.7,96.0 511.9,94.9 512.0,93.9 512.1,92.9 512.2,91.8 512.3,90.8 512.5,89.8 512.6,88.8 512.7,87.8 512.8,86.9 512.9,85.9 513.0,85.0 513.1,83.9 513.2,82.9 513.3,81.8 513.4,80.8 513.5,79.8 513.6,78.8 513.7,77.8 513.8,76.8 513.9,75.8 514.0,74.9 514.1,73.9 514.2,72.9 514.3,72.0 514.3,71.0 514.4,70.0 514.5,69.0 514.6,68.0 514.7,67.0 514.8,65.9 514.8,64.8 514.9,63.8 515.0,62.7 515.1,61.7 515.2,60.6 515.2,59.6 515.3,58.5 515.4,57.5 515.4,56.5 515.5,55.6 515.5,54.7 515.6,53.8 515.6,53.0 515.6,51.6 515.6,50.4 515.6,49.3 515.6,48.2 515.5,47.2 515.4,46.3 515.4,45.4 515.3,44.4 515.2,43.5 515.1,42.3 515.0,41.0 514.9,39.8 514.7,38.7 514.5,37.6 514.3,36.6 514.0,35.8 513.4,34.6 512.7,33.7 511.8,33.0 510.7,32.6 510.1,32.4 509.9,32.4 509.5,32.5 508.7,32.7 507.1,32.8 504.4,33.0 503.8,33.0 503.1,33.1 502.4,33.1 501.6,33.1 500.8,33.2 500.0,33.2 499.1,33.3 498.1,33.3 497.2,33.3 496.2,33.4 495.2,33.4 494.2,33.5 493.1,33.5 492.0,33.6 490.9,33.6 489.8,33.7 488.7,33.7 487.5,33.8 486.4,33.8 485.3,33.9 484.1,33.9 482.9,34.0 481.8,34.0 480.7,34.1 479.5,34.1 478.4,34.2 477.3,34.2 476.2,34.3 475.1,34.3 474.0,34.4 473.0,34.4 472.0,34.4 471.0,34.5 470.0,34.5 468.9,34.5 467.9,34.6 466.8,34.6 465.7,34.6 464.7,34.7 463.6,34.7 462.6,34.7 461.6,34.7 460.5,34.7 459.5,34.8 458.5,34.8 457.5,34.8 456.5,34.8 455.4,34.8 454.4,34.9 453.4,34.9 452.5,34.9 451.5,34.9 450.5,34.9 449.5,34.9 448.5,35.0 447.6,35.0 446.6,35.0 445.6,35.0 444.7,35.0 443.7,35.1 442.8,35.1 441.9,35.1 440.9,35.2 440.0,35.2 438.9,35.2 437.8,35.3 436.6,35.3 435.5,35.4 434.4,35.4 433.3,35.5 432.2,35.5 431.1,35.5 430.0,35.6 428.9,35.6 427.8,35.7 426.7,35.7 425.6,35.8 424.6,35.9 423.6,35.9 422.5,36.0 421.6,36.0 420.6,36.1 419.6,36.2 418.7,36.3 417.8,36.3 416.9,36.4 416.1,36.5 415.3,36.6 414.5,36.7 413.1,36.9 411.8,37.1 410.7,37.4 409.7,37.6 408.7,37.9 407.8,38.1 406.9,38.4 406.1,38.7 405.3,39.0 404.5,39.3 403.6,39.6 402.7,40.0 401.8,40.3 400.8,40.6 399.9,41.0 399.0,41.4 398.1,41.8 397.2,42.2 396.3,42.6 395.3,43.0 394.4,43.4 393.4,43.8 392.4,44.2 391.3,44.6 390.2,45.0 389.0,45.4 388.1,45.7 387.2,46.0 386.2,46.2 385.2,46.5 384.2,46.8 383.1,47.1 382.0,47.4 380.9,47.7 379.8,48.0 378.7,48.3 377.6,48.6 376.5,48.9 375.5,49.1 374.4,49.4 373.5,49.6 372.5,49.9 371.6,50.1 370.8,50.3 370.0,50.5 368.6,50.8 367.5,51.1 366.6,51.3 365.9,51.4 365.2,51.6 364.4,51.7 363.5,51.9 362.4,52.1 361.0,52.3 360.2,52.4 359.4,52.6 358.6,52.7 357.7,52.9 356.7,53.0 355.8,53.2 354.8,53.4 353.8,53.5 352.7,53.7 351.7,53.9 350.6,54.0 349.5,54.2 348.4,54.4 347.3,54.6 346.2,54.8 345.1,54.9 344.0,55.1 342.9,55.3 341.8,55.5 340.9,55.7 339.9,55.8 338.9,56.0 337.8,56.2 336.8,56.4 335.7,56.6 334.6,56.8 333.6,57.0 332.5,57.2 331.4,57.4 330.3,57.6 329.3,57.7 328.2,57.9 327.2,58.1 326.2,58.3 325.2,58.5 324.2,58.6 323.3,58.8 322.4,58.9 321.5,59.1 320.7,59.2 320.0,59.3 318.6,59.5 317.5,59.6 316.6,59.7 315.9,59.8 315.2,59.8 314.5,59.9 313.7,59.9 312.8,59.9 311.6,59.9 310.0,60.0 309.3,60.0 308.5,60.1 307.7,60.1 306.9,60.1 306.1,60.1 305.2,60.2 304.3,60.2 303.4,60.2 302.4,60.3 301.4,60.3 300.5,60.3 299.4,60.4 298.4,60.4 297.3,60.4 296.3,60.5 295.2,60.5 294.1,60.5 293.0,60.6 291.9,60.6 290.7,60.6 289.6,60.7 288.5,60.7 287.3,60.8 286.2,60.8 285.0,60.9 284.1,60.9 283.2,61.0 282.2,61.0 281.2,61.1 280.3,61.1 279.3,61.2 278.3,61.3 277.2,61.3 276.2,61.4 275.2,61.4 274.1,61.5 273.1,61.6 272.0,61.6 270.9,61.7 269.9,61.7 268.8,61.8 267.7,61.9 266.6,61.9 265.6,62.0 264.5,62.1 263.4,62.1 262.4,62.2 261.3,62.3 260.3,62.3 259.2,62.4 258.2,62.5 257.2,62.6 256.2,62.6 255.2,62.7 254.2,62.8 253.2,62.8 252.3,62.9 251.2,63.0 250.1,63.1 249.0,63.2 247.9,63.3 246.8,63.3 245.7,63.4 244.6,63.5 243.5,63.6 242.5,63.7 241.4,63.9 240.4,64.0 239.3,64.1 238.3,64.2 237.3,64.3 236.2,64.4 235.2,64.5 234.2,64.5 233.2,64.6 232.3,64.7 231.3,64.8 230.4,64.9 229.4,65.0 228.5,65.1 227.6,65.1 226.7,65.2 225.9,65.2 225.0,65.3 223.8,65.4 222.5,65.4 221.4,65.5 220.3,65.5 219.2,65.6 218.1,65.6 217.1,65.6 216.1,65.7 215.1,65.7 214.1,65.7 213.1,65.7 212.2,65.7 211.2,65.7 210.3,65.7 209.4,65.7 208.4,65.6 207.5,65.6 206.5,65.6 205.4,65.6 204.4,65.5 203.3,65.5 202.3,65.4 201.3,65.4 200.3,65.3 199.3,65.2 198.3,65.2 197.4,65.1 196.4,65.0 195.3,64.9 194.3,64.8 193.3,64.8 192.2,64.7 191.1,64.6 190.0,64.5 189.1,64.4 188.1,64.4 187.2,64.3 186.2,64.2 185.2,64.1 184.3,64.1 183.3,64.0 182.3,63.9 181.2,63.8 180.2,63.7 179.2,63.7 178.2,63.6 177.1,63.5 176.1,63.4 175.1,63.3 174.1,63.3 173.0,63.2 172.0,63.1 171.0,63.1 170.0,63.0 169.0,62.9 168.0,62.9 166.9,62.8 165.8,62.8 164.8,62.7 163.7,62.6 162.6,62.6 161.5,62.5 160.4,62.5 159.4,62.4 158.3,62.4 157.3,62.3 156.3,62.3 155.3,62.2 154.3,62.2 153.4,62.2 152.5,62.1 151.6,62.1 150.8,62.0 150.0,62.0 148.6,61.9 147.4,61.9 146.3,61.8 145.3,61.8 144.4,61.7 143.5,61.7 142.7,61.6 141.8,61.6 141.0,61.5 140.0,61.5" fill="none" stroke="#0072bd" stroke-width="2" stroke-linejoin="round"/>
<polyline points="88.5,68.5 89.5,68.4 90.6,68.3 91.6,68.3 92.7,68.2 93.7,68.1 94.8,68.0 95.9,67.9 96.9,67.8 98.0,67.8 99.1,67.7 100.1,67.6 101.2,67.5 102.2,67.4 103.2,67.3 104.3,67.3 105.3,67.2 106.2,67.1 107.2,67.0 108.2,66.9 109.1,66.9 110.0,66.8 111.2,66.7 112.3,66.6 113.4,66.5 114.4,66.5 115.5,66.4 116.5,66.3 117.5,66.2 118.5,66.2 119.4,66.1 120.4,66.0 121.3,65.9 122.3,65.9 123.2,65.8 124.1,65.7 125.1,65.6 126.0,65.5 127.0,65.4 128.1,65.2 129.0,65.1 130.0,65.0 130.9,64.8 131.8,64.7 132.8,64.5 133.7,64.4 134.6,64.2 135.6,64.1 136.6,63.9 137.7,63.8 138.8,63.7 140.0,63.6 140.9,63.5 141.8,63.5 142.7,63.4 143.6,63.4 144.6,63.3 145.6,63.3 146.6,63.2 147.6,63.2 148.6,63.2 149.6,63.1 150.7,63.1 151.7,63.1 152.8,63.1 153.8,63.1 154.9,63.0 155.9,63.0 156.9,63.0 158.0,63.0 159.0,63.0 160.0,63.0 161.0,63.0 162.0,63.0 163.0,63.0 164.1,63.0 165.1,63.0 166.2,63.1 167.2,63.1 168.2,63.1 169.3,63.1 170.3,63.2 171.3,63.2 172.4,63.3 173.4,63.3 174.4,63.3 175.4,63.4 176.3,63.4 177.3,63.5 178.2,63.5 179.1,63.6 180.0,63.6 181.2,63.7 182.3,63.7 183.4,63.8 184.4,63.9 185.5,64.0 186.5,64.1 187.5,64.1 188.5,64.2 189.5,64.3 190.4,64.4 191.4,64.5 192.3,64.6 193.2,64.7 194.1,64.8 195.0,64.9 196.2,65.0 197.3,65.1 198.5,65.3 199.5,65.4 200.6,65.5 201.6,65.6 202.6,65.8 203.6,65.9 204.6,66.0 205.6,66.2 206.5,66.4 207.6,66.7 208.6,67.0 209.6,67.3 210.5,67.6 211.4,68.0 212.3,68.3 213.3,68.6 214.4,68.9 215.5,69.2 216.4,69.4 217.4,69.6 218.4,69.7 219.4,69.9 220.4,70.1 221.5,70.2 222.6,70.4 223.6,70.5 224.7,70.6 225.8,70.8 226.9,70.9 228.0,71.0 229.0,71.1 230.0,71.2 231.0,71.3 232.0,71.4 233.0,71.5 234.0,71.5 235.0,71.6 236.0,71.7 237.0,71.7 238.1,71.8 239.2,71.8 240.3,71.8 241.4,71.8 242.3,71.8 243.3,71.8 244.4,71.7 245.4,71.7 246.5,71.6 247.5,71.6 248.6,71.5 249.7,71.4 250.8,71.4 251.9,71.3 252.9,71.2 253.9,71.1 254.9,71.0 255.9,70.9 256.8,70.8 257.7,70.7 258.9,70.5 259.9,70.4 260.9,70.2 261.8,70.0 262.7,69.8 263.6,69.6 264.5,69.3 265.4,69.1 266.4,68.9 267.4,68.7 268.6,68.5 269.5,68.4 270.4,68.2 271.4,68.1 272.3,67.9 273.4,67.8 274.4,67.6 275.5,67.5 276.5,67.3 277.6,67.2 278.7,67.1 279.8,66.9 280.9,66.8 281.9,66.7 283.0,66.6 284.0,66.5 285.0,66.4 286.0,66.3 287.0,66.3 288.0,66.2 289.0,66.2 289.9,66.1 290.9,66.1 291.8,66.1 292.7,66.0 293.7,66.0 294.7,66.0 295.7,66.0 296.7,66.0 297.8,66.0 298.9,65.9 300.0,65.9 300.9,65.9 301.8,65.9 302.8,65.8 303.8,65.8 304.8,65.8 305.8,65.8 306.8,65.8 307.9,65.7 308.9,65.7 310.0,65.7 311.0,65.7 312.1,65.6 313.1,65.6 314.2,65.6 315.2,65.6 316.2,65.5 317.2,65.5 318.2,65.4 319.1,65.4 320.0,65.3 321.2,65.2 322.3,65.1 323.3,65.0 324.4,64.9 325.4,64.7 326.4,64.6 327.3,64.4 328.3,64.3 329.3,64.1 330.2,64.0 331.2,63.8 332.2,63.7 333.3,63.6 334.4,63.4 335.5,63.3 336.4,63.2 337.4,63.1 338.4,63.0 339.4,62.9 340.4,62.8 341.5,62.7 342.5,62.6 343.6,62.5 344.7,62.4 345.7,62.3 346.8,62.2 347.8,62.1 348.9,62.0 349.9,62.0 350.9,61.9 351.8,61.8 352.8,61.7 353.6,61.7 354.5,61.6 355.8,61.5 357.0,61.4 358.2,61.4 359.3,61.3 360.3,61.2 361.4,61.2 362.4,61.2 363.3,61.1 364.3,61.1 365.2,61.1 366.1,61.0 367.0,61.0 368.1,61.0 369.1,60.9 370.1,60.9 371.0,60.9 371.8,60.9 372.8,60.9 373.7,60.9 374.8,61.0 376.0,61.0 376.9,61.0 377.8,61.1 378.7,61.1 379.8,61.2 380.8,61.3 381.9,61.3 382.9,61.4 384.0,61.5 385.1,61.6 386.1,61.7 387.2,61.7 388.2,61.8 389.1,61.9 390.0,62.0 391.2,62.1 392.3,62.2 393.4,62.4 394.5,62.5 395.5,62.7 396.5,62.8 397.4,62.9 398.3,63.1 399.2,63.2 400.0,63.3 401.3,63.4 402.4,63.5 403.4,63.6 404.4,63.7 405.4,63.9 406.4,64.2 407.3,64.5 408.2,64.9 409.1,65.3 410.0,65.8 410.9,66.3 411.8,67.0 412.7,67.7 413.4,68.4 414.1,69.1 414.9,69.9 415.6,70.8 416.3,71.7 417.0,72.6 417.7,73.5 418.4,74.5 419.0,75.4 419.6,76.3 420.1,77.3 420.7,78.3 421.2,79.3 421.7,80.4 422.2,81.4 422.6,82.4 423.1,83.4 423.5,84.3 423.9,85.3 424.3,86.2 424.7,87.1 425.0,88.0 425.4,88.9 425.7,89.9 426.1,90.9 426.5,92.0 426.8,92.9 427.2,93.7 427.5,94.6 427.9,95.6 428.3,96.5 428.6,97.5 429.0,98.5 429.4,99.5 429.7,100.6 430.1,101.6 430.4,102.7 430.7,103.6 430.9,104.6 431.2,105.5 431.4,106.5 431.7,107.6 431.9,108.6 432.2,109.6 432.4,110.6 432.7,111.6 432.9,112.6 433.1,113.6 433.3,114.6 433.5,115.5 433.7,116.5 433.9,117.5 434.1,118.5 434.3,119.4 434.5,120.3 434.6,121.2 434.8,122.1 434.9,123.1 435.1,124.1 435.3,125.3 435.5,126.5 435.6,127.4 435.8,128.3 435.9,129.2 436.1,130.2 436.2,131.2 436.3,132.2 436.5,133.2 436.6,134.3 436.8,135.4 436.9,136.4 437.1,137.5 437.2,138.6 437.4,139.7 437.5,140.8 437.7,141.9 437.8,142.9 438.0,144.0 438.1,145.0 438.3,146.0 438.4,147.0 438.6,148.0 438.7,149.0 438.9,150.0 439.0,151.0 439.2,152.0 439.3,153.0 439.5,154.0 439.6,155.0 439.7,156.1 439.9,157.1 440.0,158.1 440.2,159.1 440.3,160.0 440.5,161.0 440.6,162.0 440.7,163.0 440.9,164.0 441.0,165.0 441.2,166.0 441.3,167.0 441.4,168.0 441.6,168.9 441.7,169.9 441.8,170.9 442.0,171.8 442.1,172.8 442.2,173.8 442.4,174.8 442.5,175.8 442.7,176.9 442.8,177.9 443.0,179.0 443.1,179.9 443.3,180.9 443.5,181.9 443.6,182.9 443.8,184.0 444.0,185.1 444.1,186.1 444.3,187.2 444.5,188.3 444.7,189.4 444.9,190.4 445.0,191.5 445.2,192.5 445.4,193.6 445.6,194.5 445.7,195.5 445.9,196.4 446.0,197.3 446.2,198.2 446.3,199.0 446.5,200.4 446.7,201.6 446.9,202.7 447.1,203.8 447.2,204.7 447.4,205.7 447.5,206.6 447.7,207.5 447.8,208.3 448.0,209.3 448.2,210.2 448.4,211.3 448.6,212.3 448.9,213.4 449.1,214.4 449.4,215.4 449.6,216.5 449.9,217.5 450.1,218.5 450.4,219.4 450.7,220.4 451.0,221.5 451.4,222.6 451.8,223.6 452.2,224.7 452.5,225.7 452.9,226.7 453.3,227.6 453.7,228.5 454.0,229.3 454.6,230.5 455.1,231.5 455.5,232.4 456.0,233.1 456.5,233.7 457.3,234.6 458.2,235.2 459.0,235.4 460.2,235.2 461.5,234.1 461.9,233.4 462.4,232.5 462.8,231.5 463.2,230.4 463.6,229.2 464.0,228.0 464.2,227.1 464.4,226.3 464.6,225.3 464.8,224.4 465.0,223.4 465.2,222.4 465.3,221.3 465.5,220.2 465.6,219.0 465.7,218.1 465.7,217.1 465.8,216.1 465.9,215.1 465.9,214.0 465.9,213.0 466.0,211.9 466.0,210.8 466.0,209.7 466.0,208.6 466.0,207.5 466.0,206.4 466.0,205.4 466.0,204.4 465.9,203.4 465.9,202.4 465.8,201.3 465.8,200.3 465.7,199.3 465.7,198.2 465.6,197.2 465.6,196.1 465.5,195.1 465.5,194.1 465.5,193.0 465.5,192.0 465.5,191.1 465.5,190.1 465.5,189.2 465.5,188.2 465.6,187.3 465.6,186.3 465.6,185.4 465.6,184.4 465.7,183.4 465.7,182.3 465.7,181.3 465.8,180.2 465.8,179.0 465.8,178.1 465.8,177.2 465.9,176.2 465.9,175.3 465.9,174.3 465.9,173.3 466.0,172.2 466.0,171.2 466.0,170.2 466.1,169.1 466.1,168.0 466.1,167.0 466.2,165.9 466.2,164.9 466.2,163.9 466.3,162.9 466.3,161.9 466.4,160.9 466.4,160.0 466.5,158.9 466.5,157.9 466.6,156.9 466.6,155.9 466.7,154.9 466.8,154.0 466.8,153.0 466.9,152.1 467.0,151.1 467.1,150.2 467.1,149.2 467.2,148.2 467.3,147.2 467.4,146.2 467.5,145.1 467.6,144.0 467.7,143.1 467.8,142.2 467.9,141.2 468.0,140.3 468.1,139.3 468.2,138.3 468.3,137.3 468.4,136.3 468.5,135.3 468.7,134.2 468.8,133.2 468.9,132.2 469.0,131.2 469.1,130.1 469.3,129.1 469.4,128.1 469.5,127.0 469.6,126.0 469.7,125.0 469.8,124.0 469.9,123.0 470.0,122.0 470.1,121.0 470.2,120.0 470.3,118.9 470.4,117.9 470.5,116.9 470.5,115.9 470.6,114.9 470.7,113.8 470.8,112.8 470.9,111.8 471.0,110.8 471.1,109.8 471.2,108.8 471.2,107.8 471.3,106.9 471.4,105.9 471.5,104.9 471.6,104.0 471.7,102.9 471.8,101.8 471.9,100.7 472.0,99.6 472.2,98.5 472.3,97.4 472.4,96.3 472.5,95.2 472.6,94.2 472.7,93.1 472.8,92.1 472.9,91.1 473.0,90.1 473.1,89.2 473.2,88.2 473.3,87.4 473.4,86.5 473.5,85.3 473.6,84.1 473.7,83.1 473.8,82.1 473.9,81.2 474.0,80.3 474.1,79.4 474.2,78.5 474.3,77.6 474.4,76.6 474.5,75.5 474.6,74.5 474.7,73.5 474.8,72.5 475.0,71.5 475.1,70.4 475.2,69.4 475.4,68.3 475.5,67.2 475.6,66.1 475.7,65.1 475.8,64.0 475.9,63.0 476.0,62.0 476.1,60.9 476.1,59.8 476.2,58.7 476.2,57.6 476.3,56.5 476.3,55.4 476.3,54.4 476.3,53.4 476.3,52.4 476.3,51.5 476.3,50.7 476.3,50.0 476.2,48.3 476.1,47.3 476.0,46.4 475.8,45.5 475.6,44.3 475.3,43.1 475.0,42.0 474.6,41.0 474.0,40.0 473.3,39.4 472.5,38.8 471.6,38.4 470.6,38.1 469.0,37.9 468.3,37.9 467.6,37.8 466.8,37.8 466.0,37.8 465.1,37.8 464.0,37.9 462.8,37.9 461.5,37.9 460.0,37.9 459.3,37.9 458.5,37.9 457.7,37.9 456.9,37.9 456.1,37.9 455.2,37.9 454.3,37.9 453.4,37.9 452.4,37.9 451.4,37.9 450.4,37.9 449.4,37.9 448.3,37.9 447.2,37.9 446.1,37.9 444.9,37.9 443.8,38.0 442.5,38.0 441.3,38.0 440.0,38.0 439.2,38.0 438.3,38.0 437.4,38.0 436.4,38.1 435.5,38.1 434.5,38.1 433.4,38.1 432.4,38.2 431.3,38.2 430.2,38.2 429.1,38.2 428.0,38.3 426.9,38.3 425.8,38.3 424.7,38.4 423.5,38.4 422.4,38.4 421.3,38.5 420.2,38.5 419.1,38.5 418.0,38.5 417.0,38.6 415.9,38.6 414.9,38.6 413.9,38.6 413.0,38.6 412.0,38.7 411.1,38.7 410.3,38.7 409.5,38.7 408.7,38.7 408.0,38.7 406.3,38.7 404.8,38.7 403.4,38.6 402.3,38.6 401.3,38.5 400.3,38.4 399.5,38.3 398.7,38.3 398.0,38.2 397.2,38.2 396.4,38.1 395.5,38.1 394.3,38.1 393.2,38.1 392.1,38.2 391.0,38.2 390.0,38.3 388.9,38.3 388.0,38.4 387.0,38.5 386.0,38.6 384.9,38.7 383.9,38.9 382.9,39.0 381.9,39.2 380.9,39.4 380.0,39.6 379.0,39.8 378.0,40.0 377.0,40.3 376.0,40.5 375.0,40.8 374.1,41.1 373.1,41.5 372.1,41.8 371.0,42.2 370.0,42.5 369.1,42.8 368.1,43.1 367.1,43.5 366.2,43.8 365.2,44.2 364.2,44.5 363.2,44.8 362.1,45.2 361.0,45.5 360.1,45.8 359.2,46.0 358.2,46.2 357.3,46.5 356.3,46.7 355.3,46.9 354.3,47.2 353.3,47.4 352.2,47.7 351.1,47.9 350.0,48.2 349.1,48.4 348.1,48.6 347.1,48.9 346.1,49.1 345.1,49.3 344.1,49.6 343.0,49.8 342.0,50.1 340.9,50.3 339.8,50.6 338.7,50.8 337.7,51.1 336.6,51.3 335.5,51.6 334.5,51.9 333.4,52.1 332.4,52.4 331.3,52.7 330.2,53.0 329.1,53.3 328.0,53.5 326.9,53.8 325.9,54.1 324.8,54.4 323.8,54.6 322.8,54.9 321.8,55.1 320.9,55.3 320.0,55.5 318.8,55.7 317.9,55.9 317.1,56.0 316.3,56.1 315.6,56.2 314.8,56.3 313.9,56.4 312.9,56.5 311.6,56.6 310.0,56.7 309.3,56.8 308.5,56.8 307.7,56.9 306.9,57.0 306.1,57.0 305.2,57.1 304.3,57.2 303.4,57.3 302.4,57.4 301.4,57.4 300.5,57.5 299.4,57.6 298.4,57.7 297.3,57.8 296.3,57.8 295.2,57.9 294.1,58.0 293.0,58.1 291.9,58.2 290.7,58.3 289.6,58.4 288.5,58.4 287.3,58.5 286.2,58.6 285.0,58.7 284.1,58.8 283.2,58.8 282.2,58.9 281.2,59.0 280.3,59.0 279.3,59.1 278.3,59.2 277.2,59.2 276.2,59.3 275.2,59.4 274.1,59.4 273.1,59.5 272.0,59.6 270.9,59.6 269.9,59.7 268.8,59.8 267.7,59.8 266.6,59.9 265.6,60.0 264.5,60.0 263.4,60.1 262.4,60.2 261.3,60.2 260.3,60.3 259.2,60.4 258.2,60.5 257.2,60.5 256.2,60.6 255.2,60.7 254.2,60.7 253.2,60.8 252.3,60.9 251.2,61.0 250.1,61.1 249.0,61.2 247.9,61.3 246.8,61.4 245.7,61.5 244.6,61.6 243.5,61.7 242.5,61.8 241.4,61.9 240.4,62.0 239.3,62.1 238.3,62.2 237.3,62.3 236.2,62.4 235.2,62.6 234.2,62.7 233.2,62.8 232.3,62.9 231.3,63.0 230.4,63.1 229.4,63.2 228.5,63.3 227.6,63.3 226.7,63.4 225.9,63.5 225.0,63.6 223.8,63.7 222.5,63.8 221.4,64.0 220.3,64.1 219.2,64.2 218.1,64.3 217.1,64.4 216.1,64.6 215.1,64.7 214.1,64.8 213.1,64.9 212.2,64.9 211.2,65.0 210.3,65.1 209.4,65.1 208.4,65.2 207.5,65.2 206.5,65.2 205.4,65.2 204.4,65.2 203.5,65.1 202.6,65.0 201.6,64.9 200.8,64.8 199.9,64.7 199.0,64.6 198.0,64.5 197.1,64.4 196.1,64.2 195.0,64.1 193.9,64.0 192.7,63.8 191.4,63.7 190.0,63.6 189.2,63.5 188.4,63.5 187.5,63.4 186.6,63.4 185.7,63.3 184.7,63.2 183.7,63.2 182.7,63.1 181.7,63.0 180.6,63.0 179.6,62.9 178.5,62.8 177.4,62.7 176.3,62.7 175.2,62.6 174.1,62.5 173.0,62.5 171.9,62.4 170.8,62.3 169.8,62.3 168.7,62.2 167.6,62.1 166.6,62.1 165.6,62.0 164.6,62.0 163.6,61.9 162.7,61.9 161.7,61.8 160.9,61.7 160.0,61.7 158.8,61.6 157.6,61.6 156.4,61.5 155.3,61.4 154.2,61.4 153.1,61.3 152.1,61.3 151.1,61.2 150.1,61.2 149.1,61.2 148.1,61.1 147.2,61.1 146.3,61.0 145.3,61.0 144.4,61.0 143.5,60.9 142.6,60.9 141.8,60.8 140.9,60.8 140.0,60.7 138.8,60.6 137.7,60.5 136.6,60.5 135.6,60.4 134.6,60.3 133.5,60.2 132.5,60.1 131.6,60.0 130.6,59.9 129.6,59.8 128.7,59.8 127.7,59.7 126.7,59.6 125.7,59.5 124.7,59.4" fill="none" stroke="#d95319" stroke-width="1.6" stroke-linejoin="round"/>
<g stroke="#262626" stroke-width="0.62" fill="none">
<rect x="39.5" y="21.5" width="500.0" height="237.0"/>
<path d="M89.2,258.5v-5.3M89.2,21.5v5.3M139.2,258.5v-5.3M139.2,21.5v5.3M189.2,258.5v-5.3M189.2,21.5v5.3M239.2,258.5v-5.3M239.2,21.5v5.3M289.2,258.5v-5.3M289.2,21.5v5.3M339.2,258.5v-5.3M339.2,21.5v5.3M389.2,258.5v-5.3M389.2,21.5v5.3M439.2,258.5v-5.3M439.2,21.5v5.3M489.2,258.5v-5.3M489.2,21.5v5.3M39.5,211.1h5.3M539.5,211.1h-5.3M39.5,163.7h5.3M539.5,163.7h-5.3M39.5,116.3h5.3M539.5,116.3h-5.3M39.5,68.9h5.3M539.5,68.9h-5.3"/>
</g>
<g font-family="Liberation Sans, Arial, sans-serif" fill="#262626" stroke="#262626" stroke-width="0.2" font-size="13.3">
<text x="39.2" y="277" text-anchor="middle">-5</text>
<text x="89.2" y="277" text-anchor="middle">0</text>
<text x="139.2" y="277" text-anchor="middle">5</text>
<text x="189.2" y="277" text-anchor="middle">10</text>
<text x="239.2" y="277" text-anchor="middle">15</text>
<text x="289.2" y="277" text-anchor="middle">20</text>
<text x="339.2" y="277" text-anchor="middle">25</text>
<text x="389.2" y="277" text-anchor="middle">30</text>
<text x="439.2" y="277" text-anchor="middle">35</text>
<text x="489.2" y="277" text-anchor="middle">40</text>
<text x="539.2" y="277" text-anchor="middle">45</text>
<text x="34.9" y="263.8" text-anchor="end">-8</text>
<text x="34.9" y="216.4" text-anchor="end">-6</text>
<text x="34.9" y="169.0" text-anchor="end">-4</text>
<text x="34.9" y="121.6" text-anchor="end">-2</text>
<text x="34.9" y="74.2" text-anchor="end">0</text>
<text x="34.9" y="26.8" text-anchor="end">2</text>
</g>
<g font-family="Liberation Sans, Arial, sans-serif" fill="#262626" stroke="#262626" stroke-width="0.2" font-size="15.4">
<text x="289.5" y="295.8" text-anchor="middle">X(m)</text>
<text transform="translate(17.3,140) rotate(-90)" text-anchor="middle">Y(m)</text>
</g>
<text x="288.2" y="15.7" text-anchor="middle" font-family="Liberation Sans, Arial, sans-serif" fill="#000" stroke="#000" stroke-width="0.2" font-size="15">Trajectory</text>
<rect x="100.4" y="158.3" width="114.2" height="48" fill="#fff" stroke="#262626" stroke-width="0.62"/>
<path transform="translate(104.4,162.7)" d="M0.7,4H7.3M4,0.7V7.3M1.7,1.7L6.3,6.3M1.7,6.3L6.3,1.7" stroke="#ff0000" stroke-width="0.9" fill="none"/>
<path d="M102,182.4H115" stroke="#0072bd" stroke-width="2"/>
<path d="M102,197.6H115" stroke="#d95319" stroke-width="1.6"/>
<g font-family="Liberation Sans, Arial, sans-serif" fill="#000" stroke="#000" stroke-width="0.2" font-size="12.2">
<text x="116.1" y="171.4">NAV350</text>
<text x="116.1" y="186.8">Proposed method</text>
<text x="116.1" y="202">PL-ICP</text>
</g>
</svg>
</body></html>
